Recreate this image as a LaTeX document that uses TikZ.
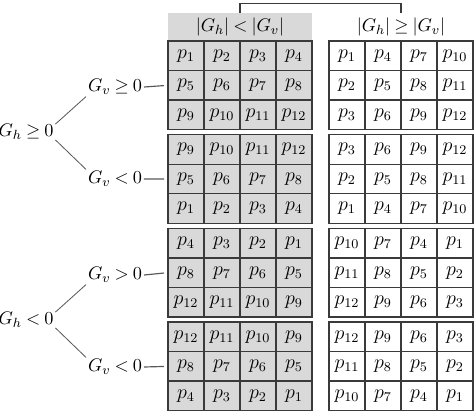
\documentclass[tikz,border=0pt]{standalone}
\usepackage{xcolor}
\usepackage{tikz}
\usetikzlibrary{positioning,calc}

\definecolor{cellgray}{HTML}{D9D9D9}
\definecolor{linegray}{HTML}{3A3A3A}

\begin{document}
\thickmuskip=4mu plus 2mu\relax
\begin{tikzpicture}[x=0.6pt, y=-0.6pt,
  every node/.style={font=\fontsize{11}{13}\selectfont},
  cell/.style={draw=linegray, line width=0.8pt, minimum width=21.6pt, minimum height=17.74pt, inner sep=0pt, font=\fontsize{11.5}{13}\selectfont},
  shaded/.style={cell, fill=cellgray},
  plain/.style={cell, fill=white},
  hdr/.style={minimum width=86.4pt, minimum height=16.8pt, inner sep=0pt},
  cond/.style={inner sep=1pt},
  branch/.style={draw=gray!70!black, line width=0.5pt},
  bracket/.style={draw=linegray, line width=0.7pt}]
\useasboundingbox (0,0) rectangle (474,413);
% headers and the bracket joining them
\node[hdr, fill=cellgray] (hdrL) at (240,27) {$|G_h| < |G_v|$};
\node[hdr] (hdrR) at (401,27) {$|G_h| \geq |G_v|$};
\draw[bracket] (hdrL.north) -- ++(0,-9) -| (hdrR.north);
% pixel grids: group / side / left edge / style / entries row by row
\foreach \g/\sd/\xo/\sty/\vals in {
  0/L/168/shaded/{1,2,3,4,5,6,7,8,9,10,11,12},
  1/L/168/shaded/{9,10,11,12,5,6,7,8,1,2,3,4},
  2/L/168/shaded/{4,3,2,1,8,7,6,5,12,11,10,9},
  3/L/168/shaded/{12,11,10,9,8,7,6,5,4,3,2,1},
  0/R/329/plain/{1,4,7,10,2,5,8,11,3,6,9,12},
  1/R/329/plain/{3,6,9,12,2,5,8,11,1,4,7,10},
  2/R/329/plain/{10,7,4,1,11,8,5,2,12,9,6,3},
  3/R/329/plain/{12,9,6,3,11,8,5,2,10,7,4,1}}{
  \foreach \v [count=\i from 0] in \vals {
    \pgfmathtruncatemacro{\col}{mod(\i,4)}
    \pgfmathtruncatemacro{\row}{div(\i,4)}
    \pgfmathsetmacro{\cx}{\xo + (\col+0.5)*36}
    \pgfmathsetmacro{\cy}{41 + 93.67*\g + (\row+0.5)*29.57}
    \node[\sty] (\sd\g-\i) at (\cx,\cy) {$p_{\v}$};
  }
}
% decision tree
\node[cond] (hpos) at (26,132) {$G_h \geq 0$};
\node[cond] (hneg) at (26,320) {$G_h < 0$};
\node[cond] (vA) at (115,87) {$G_v \geq 0$};
\node[cond] (vB) at (115,179) {$G_v < 0$};
\node[cond] (vC) at (115,275) {$G_v > 0$};
\node[cond] (vD) at (115,367) {$G_v < 0$};
\draw[branch] (hpos.15) -- (vA.south west);
\draw[branch] (hpos.-15) -- (vB.north west);
\draw[branch] (hneg.15) -- (vC.south west);
\draw[branch] (hneg.-15) -- (vD.north west);
\foreach \v/\g in {vA/0, vB/1, vC/2, vD/3}
  \draw[branch, line width=0.7pt, shorten >=2pt] (\v.east) -- (L\g-4.west);
\end{tikzpicture}
\end{document}
